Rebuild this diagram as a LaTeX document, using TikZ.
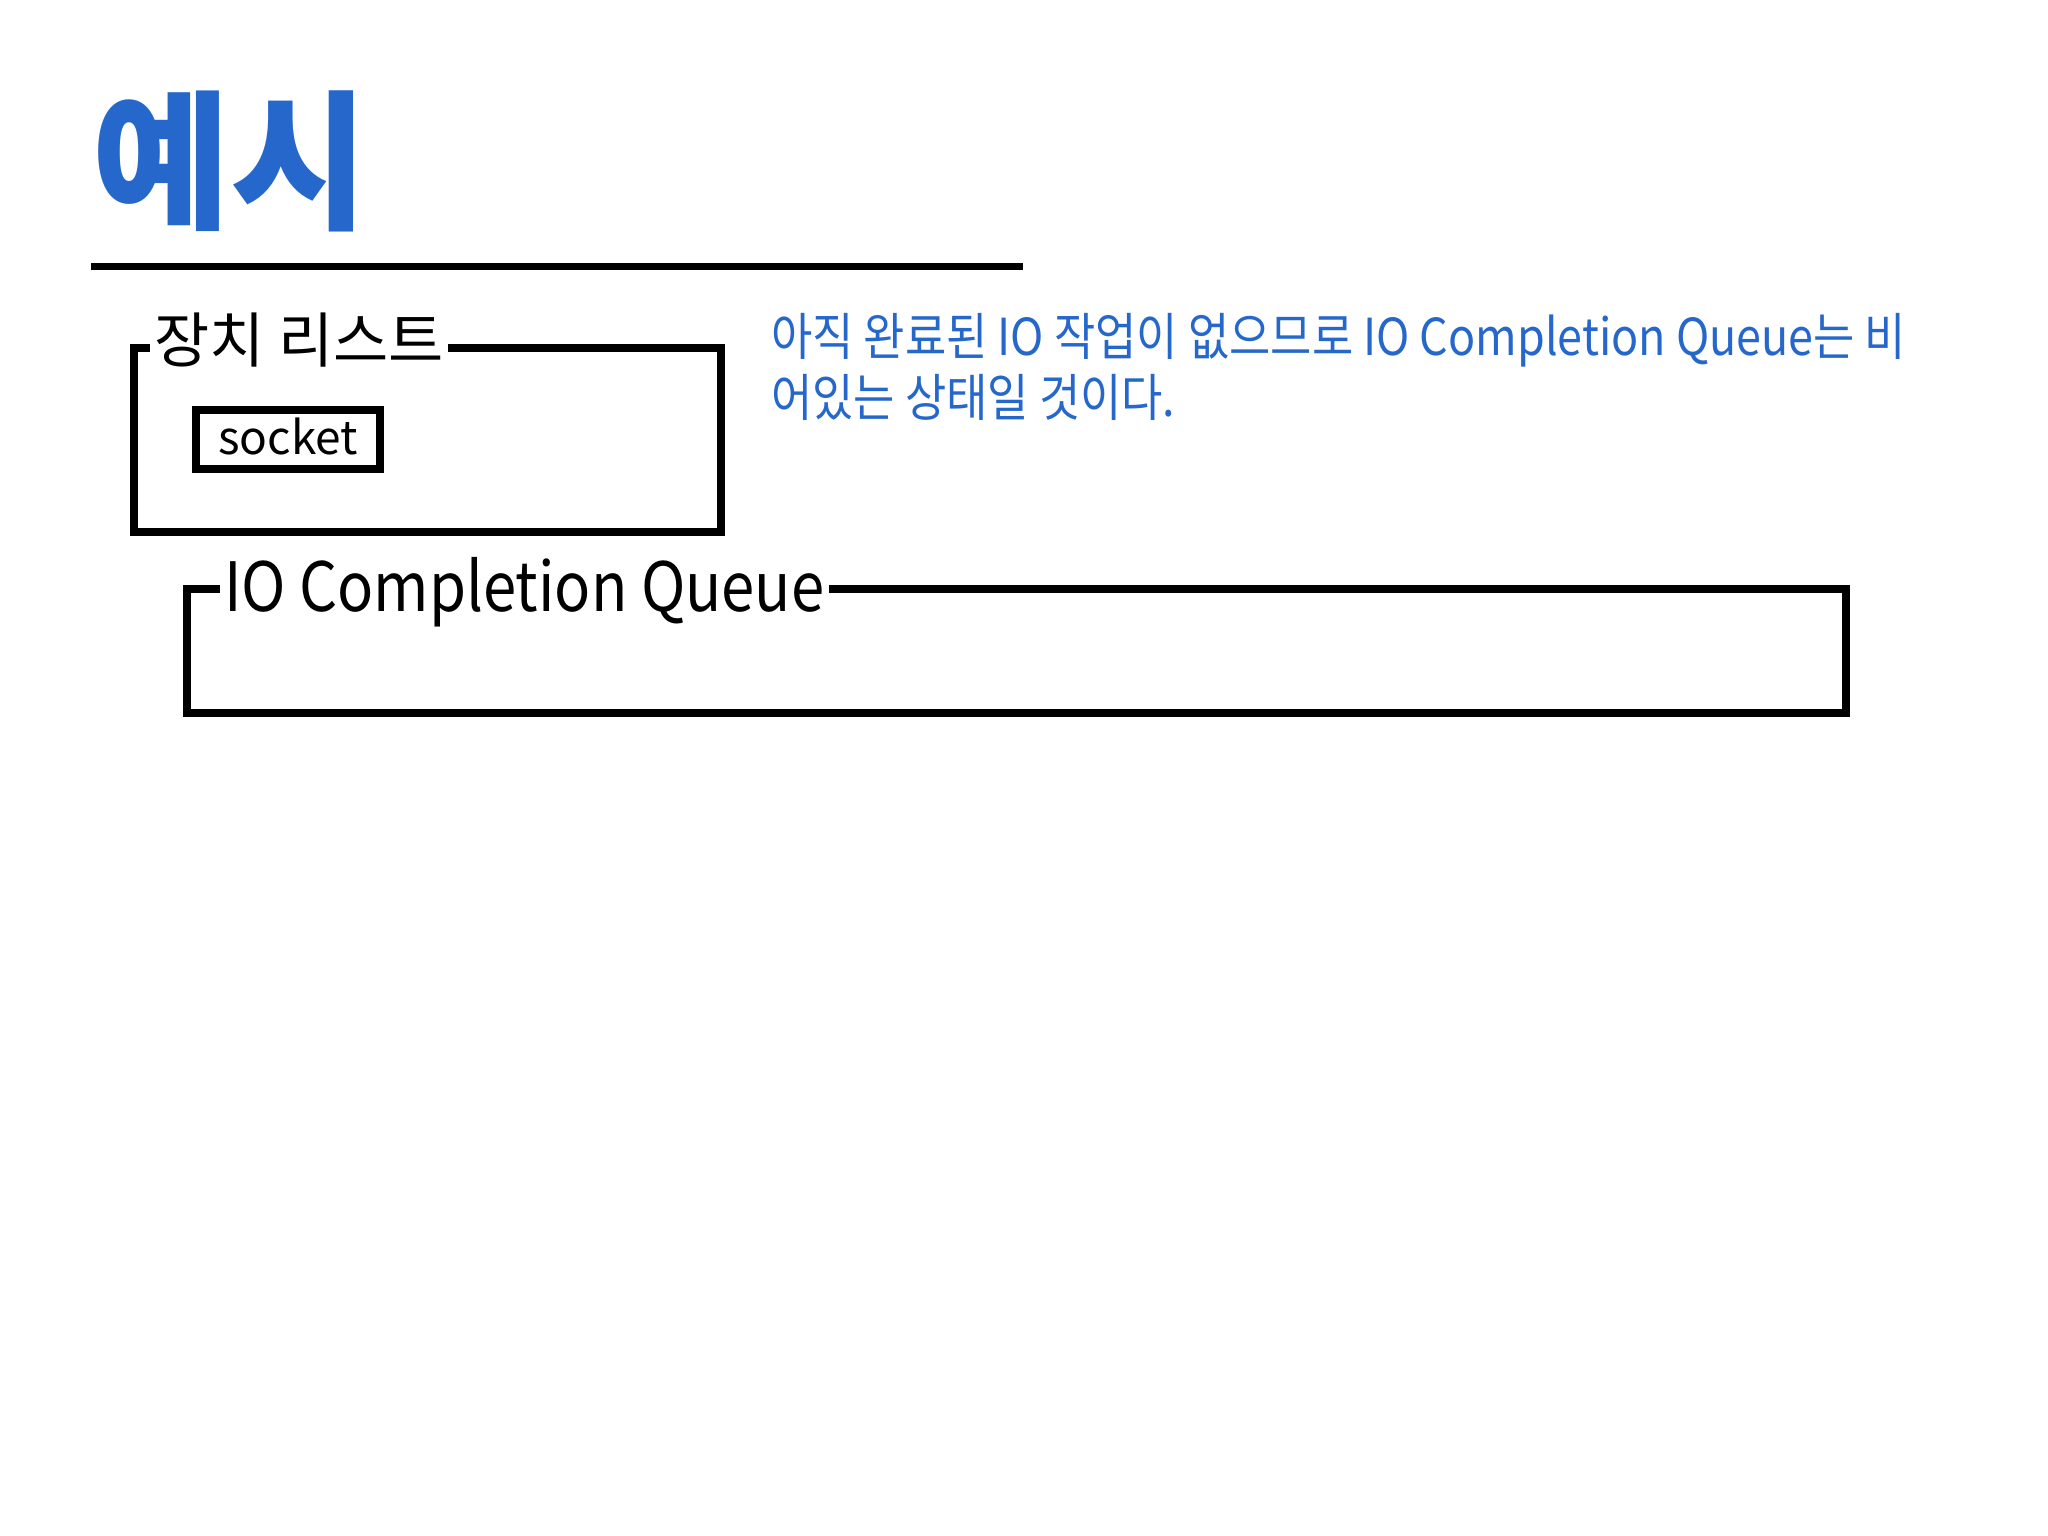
\documentclass[tikz,border=0pt]{standalone}
\usepackage{fontspec}
\setmainfont{Noto Sans CJK KR}[FakeStretch=0.88]
\newfontfamily\widefont{Noto Sans CJK KR}
\definecolor{titleblue}{RGB}{38,103,204}
\tikzset{
  frame/.style={draw, line width=8pt, inner sep=0pt, anchor=north west},
  framelabel/.style={fill=white, inner xsep=4pt, inner ysep=0pt, anchor=base west},
}
\begin{document}
\begin{tikzpicture}[x=1pt,y=-1pt]
\useasboundingbox (0,0) rectangle (2048,1536);
\node[anchor=north west, inner sep=0pt, text=titleblue, font=\widefont\bfseries\fontsize{150}{150}\selectfont] (title) at (92,91) {예시};
\draw[line width=7pt] (91,266) -- (1023,266);

\node[frame, minimum width=587pt, minimum height=184pt] (devlist) at (130,344) {};
\node[framelabel, font=\widefont\fontsize{60}{60}\selectfont] (devlabel) at (150,362) {장치 리스트};
\node[frame, minimum width=184pt, minimum height=59pt, text depth=7pt, font=\widefont\fontsize{46}{46}\selectfont] (socket) at (192,406) {socket};

\node[frame, minimum width=1659pt, minimum height=124pt] (iocq) at (183,585) {};
\node[framelabel, font=\fontsize{68}{68}\selectfont] (iocqlabel) at (220,611) {IO Completion Queue};

\node[anchor=base west, inner sep=0pt, align=left, text=titleblue, font=\fontsize{51}{61}\selectfont] (note) at (771,416)
  {아직 완료된 IO 작업이 없으므로 IO Completion Queue는 비\\어있는 상태일 것이다.};
\end{tikzpicture}
\end{document}
